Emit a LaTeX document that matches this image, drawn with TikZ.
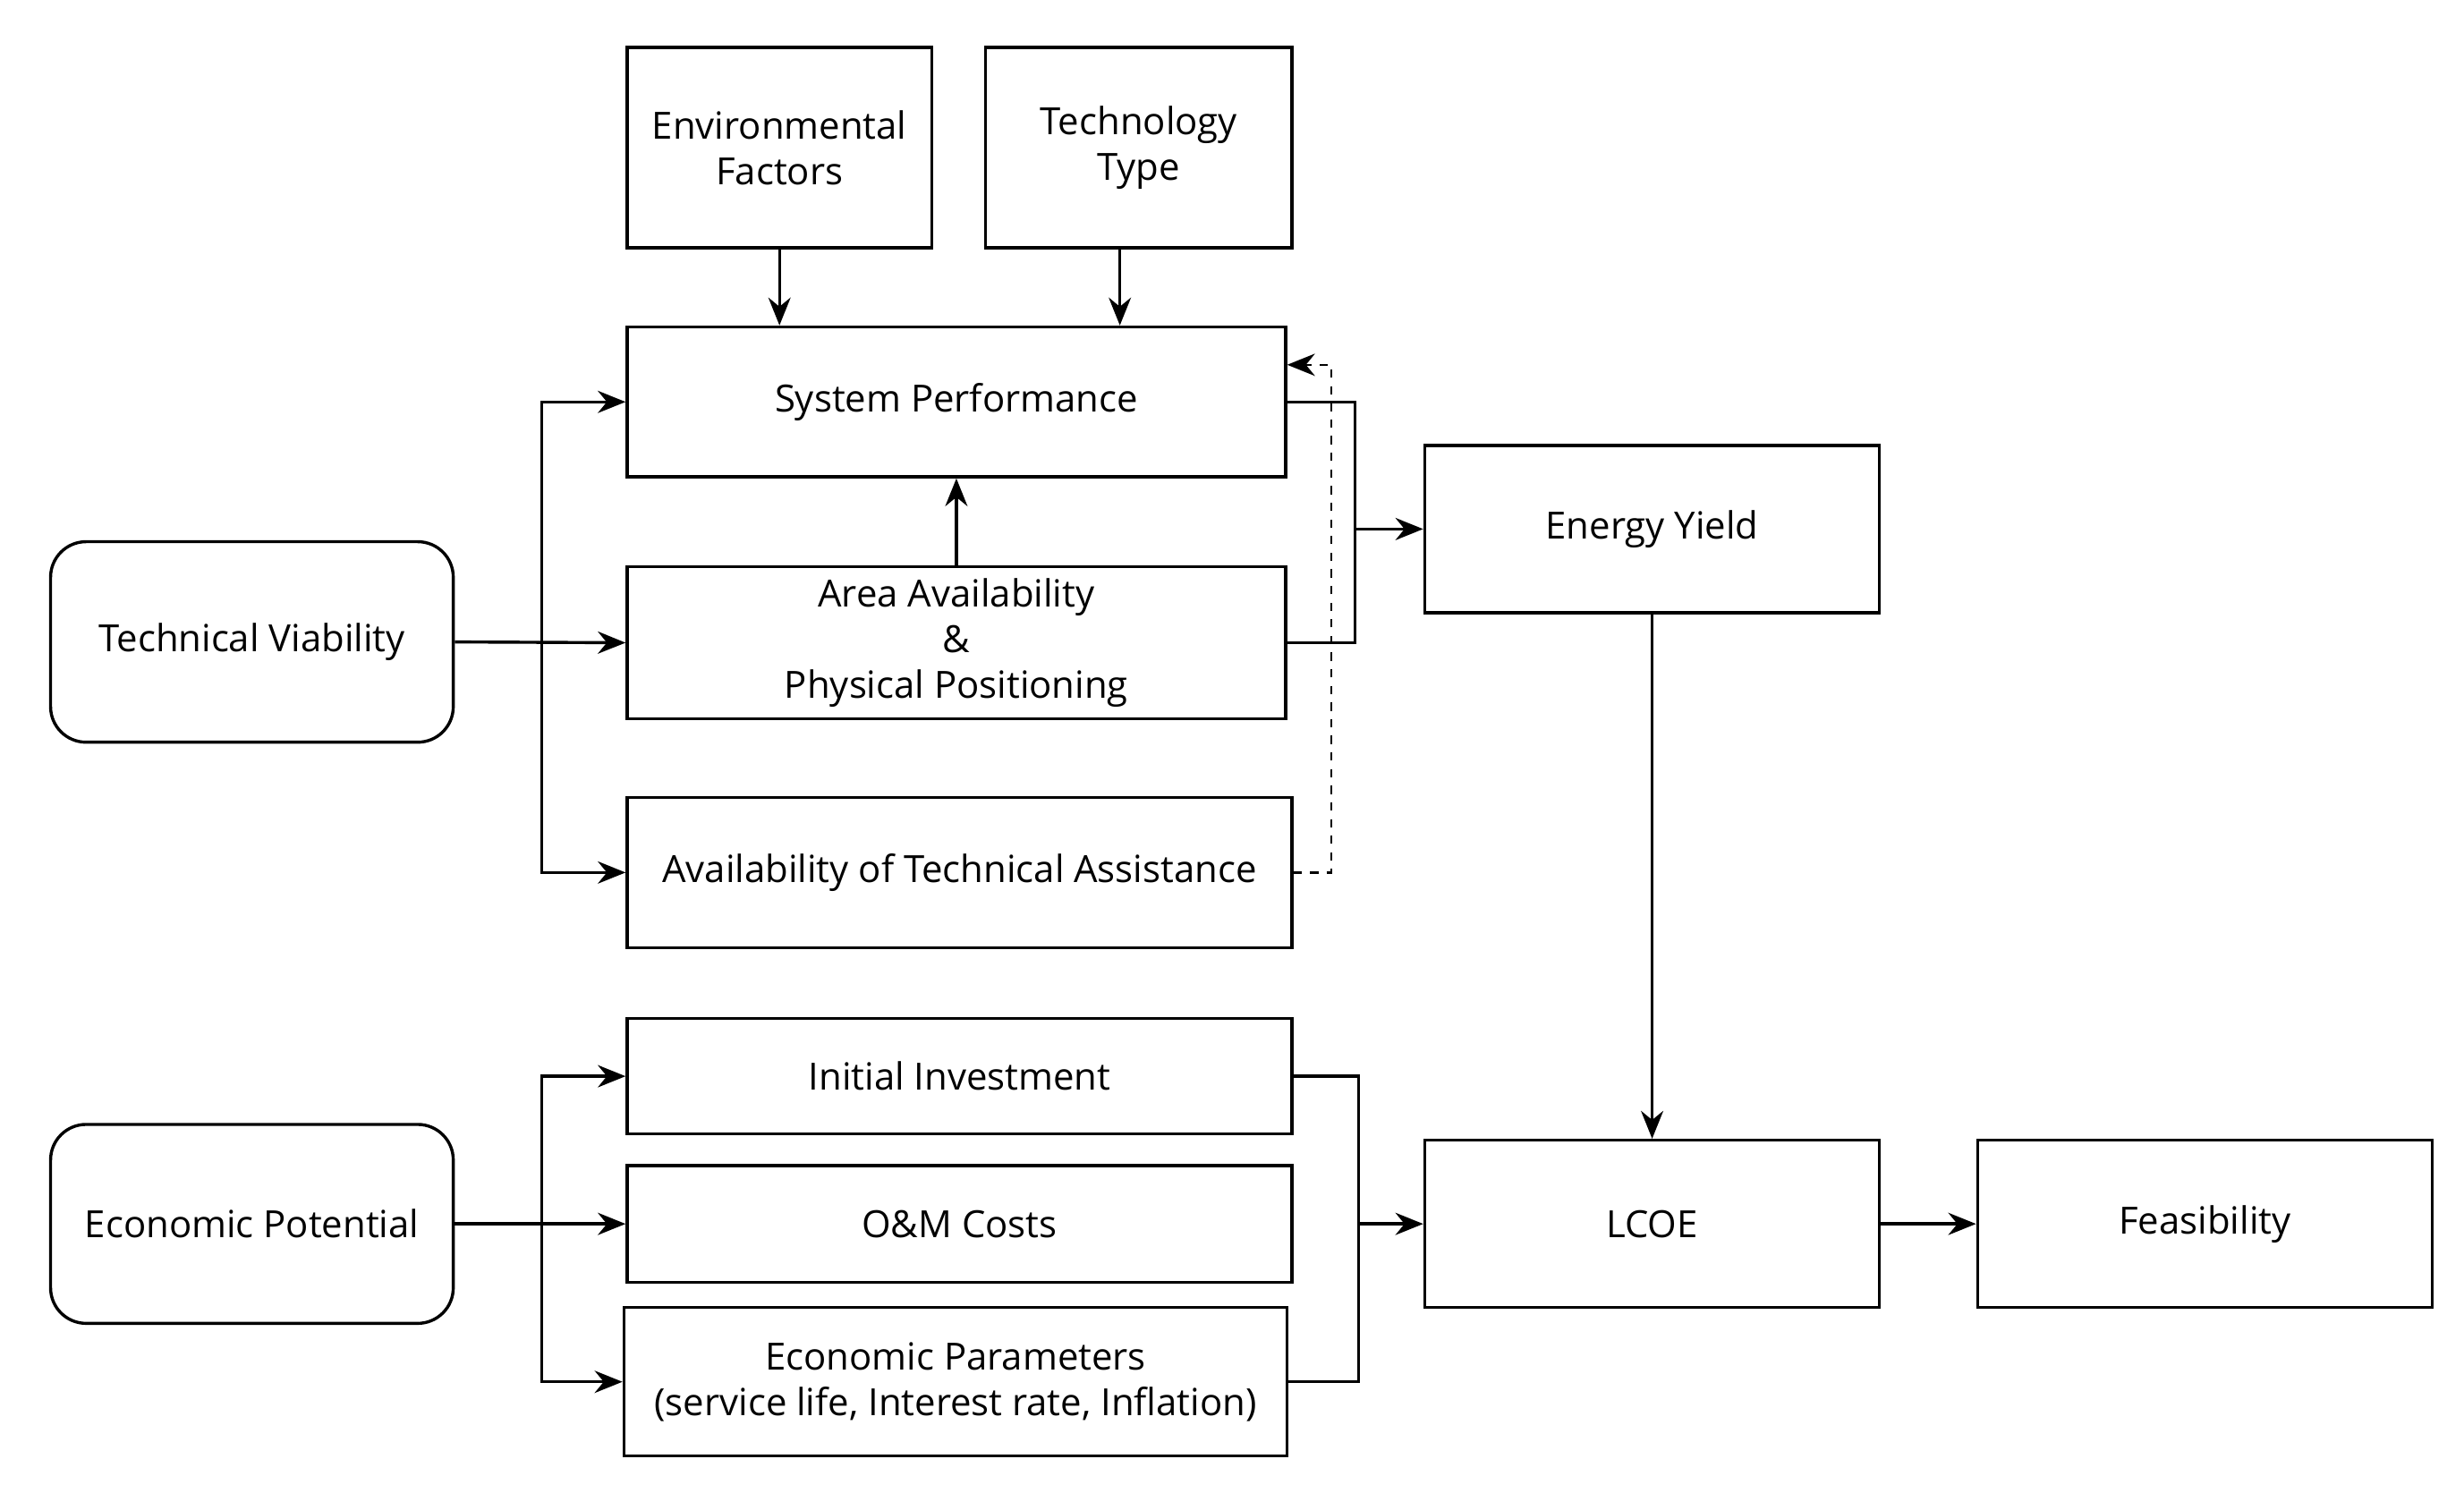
\documentclass[tikz,border=0pt]{standalone}
\usepackage{fontspec}
\setmainfont{Open Sans}
\usetikzlibrary{arrows.meta, positioning}

\begin{document}
\begin{tikzpicture}[
        x=0.02cm, y=-0.02cm,
        every node/.style={font=\fontsize{13.5}{16.5}\selectfont, align=center},
        box/.style={draw, line width=1.1pt, inner sep=0pt},
        rbox/.style={box, rounded corners=0.45cm},
        line/.style={line width=1.1pt},
        arr/.style={line, -{Stealth[length=10pt, width=8pt]}}
    ]
    \useasboundingbox (0,0) rectangle (1560,945);

    % inputs on top
    \node[box, minimum width=3.86cm, minimum height=2.54cm] (env) at (493.5,93.5) {Environmental\\Factors};
    \node[box, minimum width=3.88cm, minimum height=2.54cm] (tech) at (721,93.5) {Technology\\Type};

    % technical branch
    \node[rbox, minimum width=5.1cm, minimum height=2.54cm] (viab) at (159.5,406.5) {Technical Viability};
    \node[box, minimum width=8.34cm, minimum height=1.9cm] (perf) at (605.5,254.5) {System Performance};
    \node[box, minimum width=8.34cm, minimum height=1.92cm] (area) at (605.5,407) {Area Availability\\\&\\Physical Positioning};
    \node[box, minimum width=8.42cm, minimum height=1.9cm] (assist) at (607.5,552.5) {Availability of Technical Assistance};
    \node[box, minimum width=5.76cm, minimum height=2.12cm] (yield) at (1046,335) {Energy Yield};

    % economic branch
    \node[rbox, minimum width=5.1cm, minimum height=2.52cm] (econ) at (159.5,775) {Economic Potential};
    \node[box, minimum width=8.42cm, minimum height=1.46cm] (invest) at (607.5,681.5) {Initial Investment};
    \node[box, minimum width=8.42cm, minimum height=1.48cm] (om) at (607.5,775) {O\&M Costs};
    \node[box, minimum width=8.4cm, minimum height=1.88cm] (params) at (605,875) {Economic Parameters\\(service life, Interest rate, Inflation)};
    \node[box, minimum width=5.76cm, minimum height=2.12cm] (lcoe) at (1046,775) {LCOE};
    \node[box, minimum width=5.76cm, minimum height=2.12cm] (feas) at (1396,775) {Feasibility};

    % junctions
    \coordinate (viabJ) at (343,406.5);
    \coordinate (yieldJ) at (858,335);
    \coordinate (dashJ) at (843,231);
    \coordinate (econJ) at (343,775);
    \coordinate (lcoeJ) at (860,775);

    \draw[arr] (env.south) -- (env.south |- perf.north);
    \draw[arr] ([xshift=-0.24cm]tech.south) -- ([xshift=-0.24cm]tech.south |- perf.north);
    \draw[arr] (viab.east) -- (area.west);
    \draw[arr] (viabJ) |- (perf.west);
    \draw[arr] (viabJ) |- (assist.west);
    \draw[arr] (area.north) -- (perf.south);
    \draw[line] (perf.east) -| (yieldJ);
    \draw[line] (area.east) -| (yieldJ);
    \draw[arr] (yieldJ) -- (yield.west);
    \draw[arr, dashed, line width=0.8pt] (assist.east) -| (dashJ) -- (perf.east |- dashJ);
    \draw[arr] (yield.south) -- (lcoe.north);

    \draw[arr] (econ.east) -- (om.west);
    \draw[arr] (econJ) |- (invest.west);
    \draw[arr] (econJ) |- (params.west);
    \draw[line] (invest.east) -| (lcoeJ);
    \draw[line] (params.east) -| (lcoeJ);
    \draw[arr] (lcoeJ) -- (lcoe.west);
    \draw[arr] (lcoe.east) -- (feas.west);
\end{tikzpicture}
\end{document}
